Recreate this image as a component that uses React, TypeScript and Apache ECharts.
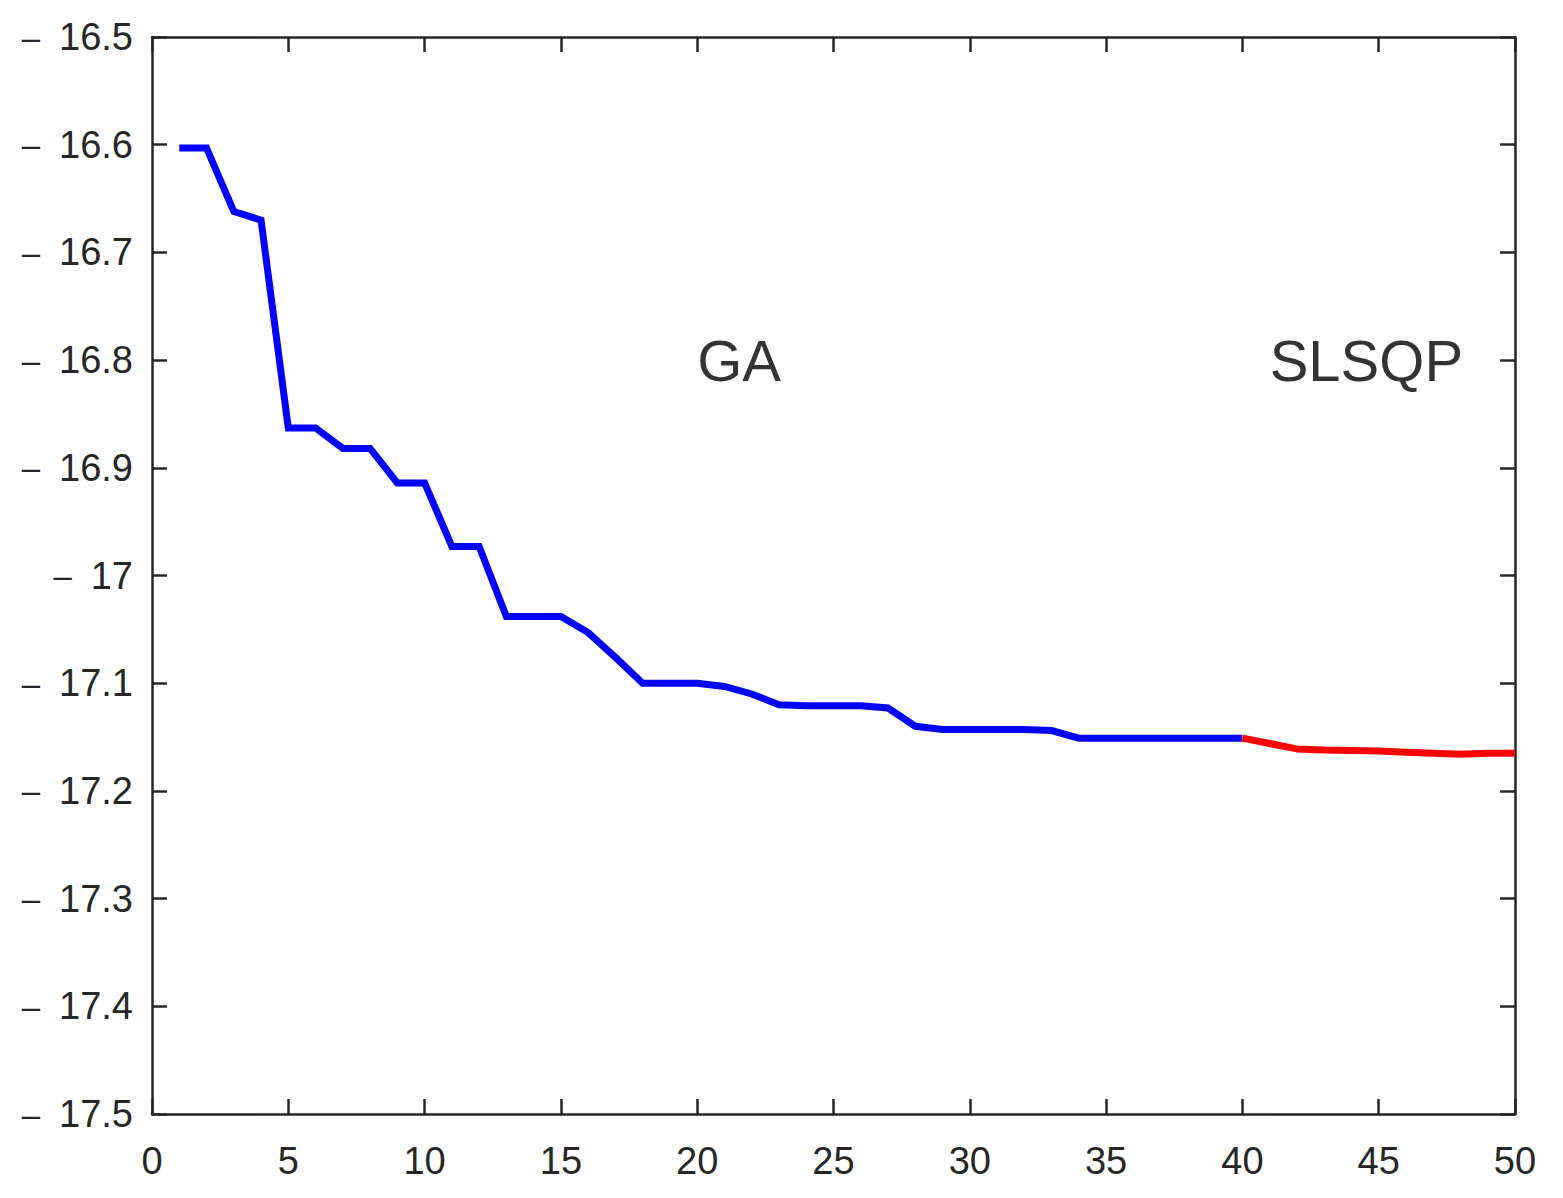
import React, { useEffect, useRef } from "react";
import * as echarts from "echarts";

const gaIter = [1, 2, 3, 4, 5, 6, 7, 8, 9, 10, 11, 12, 13, 14, 15, 16, 17, 18, 19, 20, 21, 22, 23, 24, 25, 26, 27, 28, 29, 30, 31, 32, 33, 34, 35, 36, 37, 38, 39, 40];
const gaValues = [
  -16.603, -16.603, -16.662, -16.670, -16.863, -16.863, -16.882, -16.882, -16.914, -16.914,
  -16.973, -16.973, -17.038, -17.038, -17.038, -17.053, -17.076, -17.100, -17.100, -17.100,
  -17.103, -17.110, -17.120, -17.121, -17.121, -17.121, -17.123, -17.140, -17.143, -17.143,
  -17.143, -17.143, -17.144, -17.151, -17.151, -17.151, -17.151, -17.151, -17.151, -17.151,
];
const slsqpIter = [40, 41, 42, 43, 44, 45, 46, 47, 48, 49, 50];
const slsqpValues = [-17.151, -17.156, -17.161, -17.162, -17.1625, -17.163, -17.164, -17.165, -17.166, -17.165, -17.165];
const annotations = [
  { name: "GA", x: 20, y: -16.8 },
  { name: "SLSQP", x: 41, y: -16.8 },
];

const AXIS_COLOR = "#262626";
const FONT = "Liberation Sans, Arial, sans-serif";

export default function App() {
  const ref = useRef<HTMLDivElement>(null);
  useEffect(() => {
    if (!ref.current) return;
    const chart = echarts.init(ref.current, undefined, { renderer: "svg" });
    const axisLine = { show: true, onZero: false, lineStyle: { color: AXIS_COLOR, width: 2.5 } };
    const axisTick = { show: true, inside: true, length: 15, lineStyle: { color: AXIS_COLOR, width: 2.5 } };
    const fmtY = (v: number) => "{d|\u2013}{s| }" + String(Math.round(Math.abs(v) * 10) / 10);
    chart.setOption({
      animation: false,
      backgroundColor: "#ffffff",
      grid: { left: 152, right: 48, top: 37, bottom: 84, containLabel: false },
      xAxis: [
        {
          type: "value", min: 0, max: 50, interval: 5, position: "bottom",
          axisLine, axisTick, splitLine: { show: false },
          axisLabel: { color: AXIS_COLOR, fontSize: 38, fontFamily: FONT, margin: 28 },
        },
        {
          type: "value", min: 0, max: 50, interval: 5, position: "top",
          axisLine, axisTick, splitLine: { show: false }, axisLabel: { show: false },
        },
      ],
      yAxis: [
        {
          type: "value", min: -17.5, max: -16.5, interval: 0.1, position: "left",
          axisLine, axisTick, splitLine: { show: false },
          axisLabel: {
            color: AXIS_COLOR, fontSize: 38, fontFamily: FONT, margin: 19, formatter: fmtY,
            rich: {
              d: { fontSize: 33, fontFamily: FONT, color: AXIS_COLOR },
              s: { fontSize: 38, fontFamily: FONT, width: 19 },
            },
          },
        },
        {
          type: "value", min: -17.5, max: -16.5, interval: 0.1, position: "right",
          axisLine, axisTick, splitLine: { show: false }, axisLabel: { show: false },
        },
      ],
      series: [
        {
          type: "line", name: "GA",
          data: gaIter.map((x, i) => [x, gaValues[i]]),
          showSymbol: false, symbol: "none",
          lineStyle: { color: "#0000ff", width: 7, join: "miter" },
          z: 3,
        },
        {
          type: "line", name: "SLSQP",
          data: slsqpIter.map((x, i) => [x, slsqpValues[i]]),
          showSymbol: false, symbol: "none",
          lineStyle: { color: "#ff0000", width: 7 },
          z: 4,
        },
        {
          type: "scatter",
          symbolSize: 0,
          data: annotations.map((a) => ({ name: a.name, value: [a.x, a.y] })),
          label: {
            show: true, position: "right", distance: 0,
            formatter: (p: any) => p.name,
            color: "#000000", fontSize: 58, fontFamily: FONT,
          },
          silent: true,
        },
      ],
    });
    return () => chart.dispose();
  }, []);
  return (
    <div
      ref={ref}
      style={{ position: "fixed", left: 0, top: 0, width: 1563, height: 1198, background: "#fff" }}
    />
  );
}
